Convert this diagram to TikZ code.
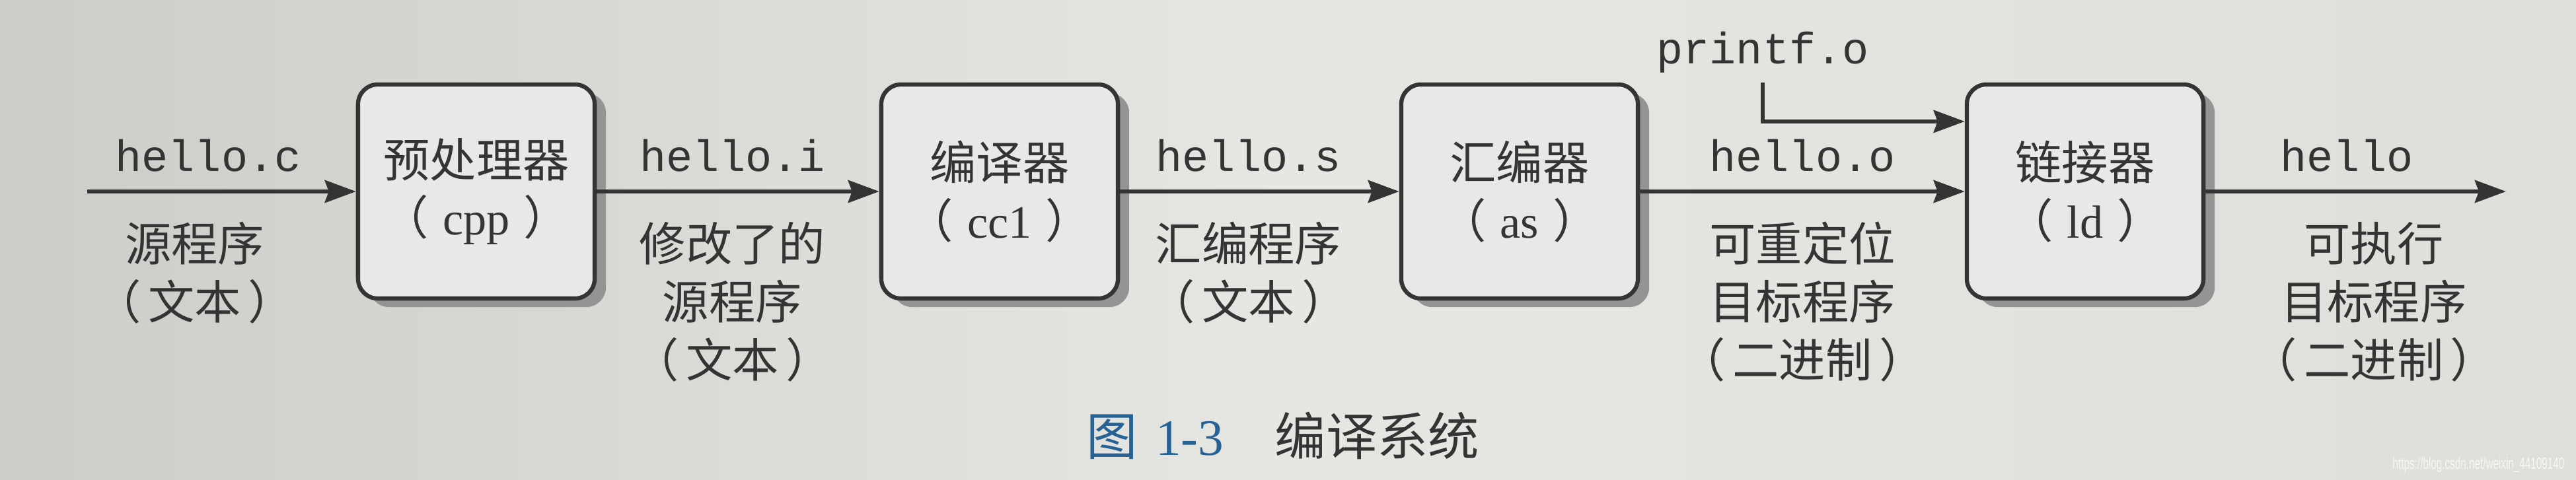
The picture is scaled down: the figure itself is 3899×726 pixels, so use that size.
\documentclass[tikz,border=0pt]{standalone}
\usepackage{fontspec}
\setmainfont{Liberation Serif}
\setsansfont{Liberation Sans}
\setmonofont{Liberation Mono}
\newfontfamily\cjk{Noto Sans CJK SC}
\usetikzlibrary{arrows.meta,calc,positioning,shadows}

\definecolor{paper}{RGB}{222,222,219}
\definecolor{paperdark}{RGB}{204,204,201}
\definecolor{paperlight}{RGB}{230,230,227}
\definecolor{boxfill}{RGB}{232,232,230}
\definecolor{ink}{RGB}{52,52,52}
\definecolor{figblue}{RGB}{38,98,148}

\tikzset{
  stage/.style={draw=ink, fill=boxfill, line width=1.8pt, rounded corners=0.3cm,
    minimum width=3.58cm, minimum height=3.24cm, align=center, inner sep=0pt,
    font=\fontsize{20}{25}\selectfont\cjk, text=ink,
    drop shadow={shadow xshift=0.17cm, shadow yshift=-0.13cm, fill=black!42, opacity=1}},
  flow/.style={-{Stealth[length=0.47cm,width=0.34cm,inset=0.06cm]}, line width=1.8pt, draw=ink},
  fname/.style={font=\fontsize{19}{22}\selectfont\ttfamily, text=ink, inner sep=0pt},
  kind/.style={font=\fontsize{20}{25}\selectfont\cjk, text=ink, align=center, inner sep=0pt}
}

\begin{document}
\begin{tikzpicture}[x=0.01cm,y=0.01cm]
  % Paper
  \useasboundingbox (0,0) rectangle (3899,-726);
  \shade[left color=paperdark,right color=paper,middle color=paperlight] (0,0) rectangle (3899,-726);

  % Stages of the tool chain
  \node[stage] (cpp) at (721,-290) {预处理器\\（\hspace{0.3em}{\rmfamily cpp}\hspace{0.3em}）};
  \node[stage] (cc1) at (1513,-290) {编译器\\（\hspace{0.3em}{\rmfamily cc1}\hspace{0.3em}）};
  \node[stage] (as) at (2300,-290) {汇编器\\（\hspace{0.3em}{\rmfamily as}\hspace{0.3em}）};
  \node[stage] (ld) at (3156,-290) {链接器\\（\hspace{0.3em}{\rmfamily ld}\hspace{0.3em}）};

  % Free ends
  \coordinate (src) at (132,-290);
  \coordinate (exe) at (3793,-290);

  % Files passed along
  \draw[flow] (src) -- (cpp)
    node[fname,pos=0.45,above=0.27cm] (cname) {hello.c}
    node[kind,pos=0.40,below=0.43cm] (ckind) {源程序\\（\hspace{0.15em}文本\hspace{0.15em}）};
  \draw[flow] (cpp) -- (cc1)
    node[fname,pos=0.48,above=0.27cm] (iname) {hello.i}
    node[kind,pos=0.48,below=0.43cm] (ikind) {修改了的\\源程序\\（\hspace{0.15em}文本\hspace{0.15em}）};
  \draw[flow] (cc1) -- (as)
    node[fname,pos=0.46,above=0.27cm] (sname) {hello.s}
    node[kind,pos=0.46,below=0.43cm] (skind) {汇编程序\\（\hspace{0.15em}文本\hspace{0.15em}）};
  \draw[flow] (as) -- (ld)
    node[fname,midway,above=0.27cm] (oname) {hello.o}
    node[kind,midway,below=0.43cm] (okind) {可重定位\\目标程序\\（\hspace{0.15em}二进制\hspace{0.15em}）};
  \draw[flow] (ld) -- (exe)
    node[fname,pos=0.47,above=0.27cm] (ename) {hello}
    node[kind,pos=0.56,below=0.43cm] (ekind) {可执行\\目标程序\\（\hspace{0.15em}二进制\hspace{0.15em}）};

  % Library object
  \node[fname] (pobj) at (2668,-79) {printf.o};
  \draw[flow] ([yshift=-0.14cm]pobj.south) |- ([yshift=1.06cm]ld.west);

  % Caption
  \node[font=\fontsize{22}{26}\selectfont\cjk, text=ink] (caption) at (1942,-660)
    {{\color{figblue}图\hspace{0.35em}{\rmfamily 1-3}}\quad 编译系统};

  % Watermark
  \node[font=\fontsize{7}{8}\selectfont\sffamily, text=white!75!paper, xscale=0.62, anchor=east] (mark)
    at (3889,-704) {https://blog.csdn.net/weixin\_44109140};
\end{tikzpicture}
\end{document}
